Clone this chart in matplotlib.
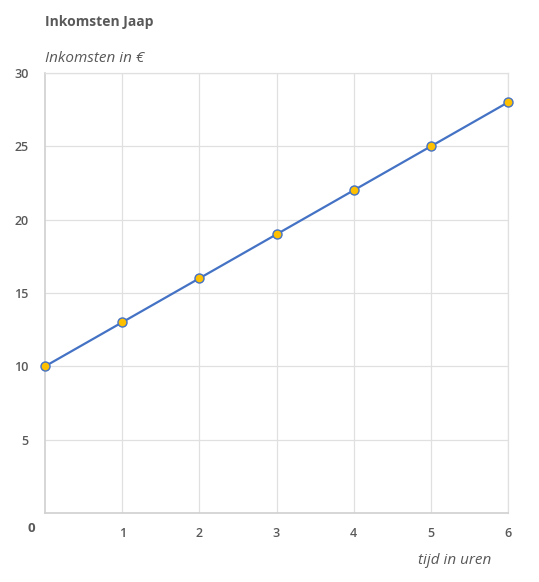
import matplotlib
matplotlib.use("Agg")
import matplotlib.pyplot as plt

hours = [0, 1, 2, 3, 4, 5, 6]
income = [10, 13, 16, 19, 22, 25, 28]
x_ticks = [1, 2, 3, 4, 5, 6]
y_ticks = [5, 10, 15, 20, 25, 30]

plt.rcParams['font.family'] = ['Open Sans', 'DejaVu Sans']
grey = '#595959'
gridc = '#E0E0E0'

W, H = 539, 582
fig = plt.figure(figsize=(W / 100, H / 100), dpi=100)
ax = fig.add_axes([45 / W, 1 - 513 / H, (508 - 45) / W, (513 - 73) / H])

ax.plot(hours, income, color='#4472C4', lw=1.6, marker='o', ms=6.5,
        mfc='#FFC000', mec='#4472C4', mew=1.0, zorder=3, clip_on=False)

ax.set_xlim(0, 6)
ax.set_ylim(0, 30)
ax.set_xticks(x_ticks)
ax.set_yticks(y_ticks)
ax.grid(True, color=gridc, lw=0.9)
ax.set_axisbelow(True)
for s in ax.spines.values():
    s.set_color(gridc)
    s.set_linewidth(0.9)
ax.spines['left'].set_color('#D0D0D0')
ax.spines['bottom'].set_color('#D0D0D0')
ax.spines['left'].set_linewidth(1.2)
ax.spines['bottom'].set_linewidth(1.2)
ax.tick_params(length=0, labelsize=9, labelcolor=grey)
ax.tick_params(axis='y', pad=12)
ax.tick_params(axis='x', pad=10)
for lab in ax.get_xticklabels() + ax.get_yticklabels():
    lab.set_fontweight('semibold')

fig.text(45 / W, 1 - 22 / H, 'Inkomsten Jaap', fontsize=10, fontweight='bold',
         color=grey, ha='left', va='center')
fig.text(45 / W, 1 - 58 / H, 'Inkomsten in €', fontsize=11, style='italic',
         color=grey, ha='left', va='center')
fig.text(491 / W, 1 - 560 / H, 'tijd in uren', fontsize=11, style='italic',
         color=grey, ha='right', va='center')
fig.text(31.5 / W, 1 - 528.5 / H, '0', fontsize=9.5, fontweight='bold',
         color=grey, ha='center', va='center')

fig.savefig('out.png', dpi=100)
